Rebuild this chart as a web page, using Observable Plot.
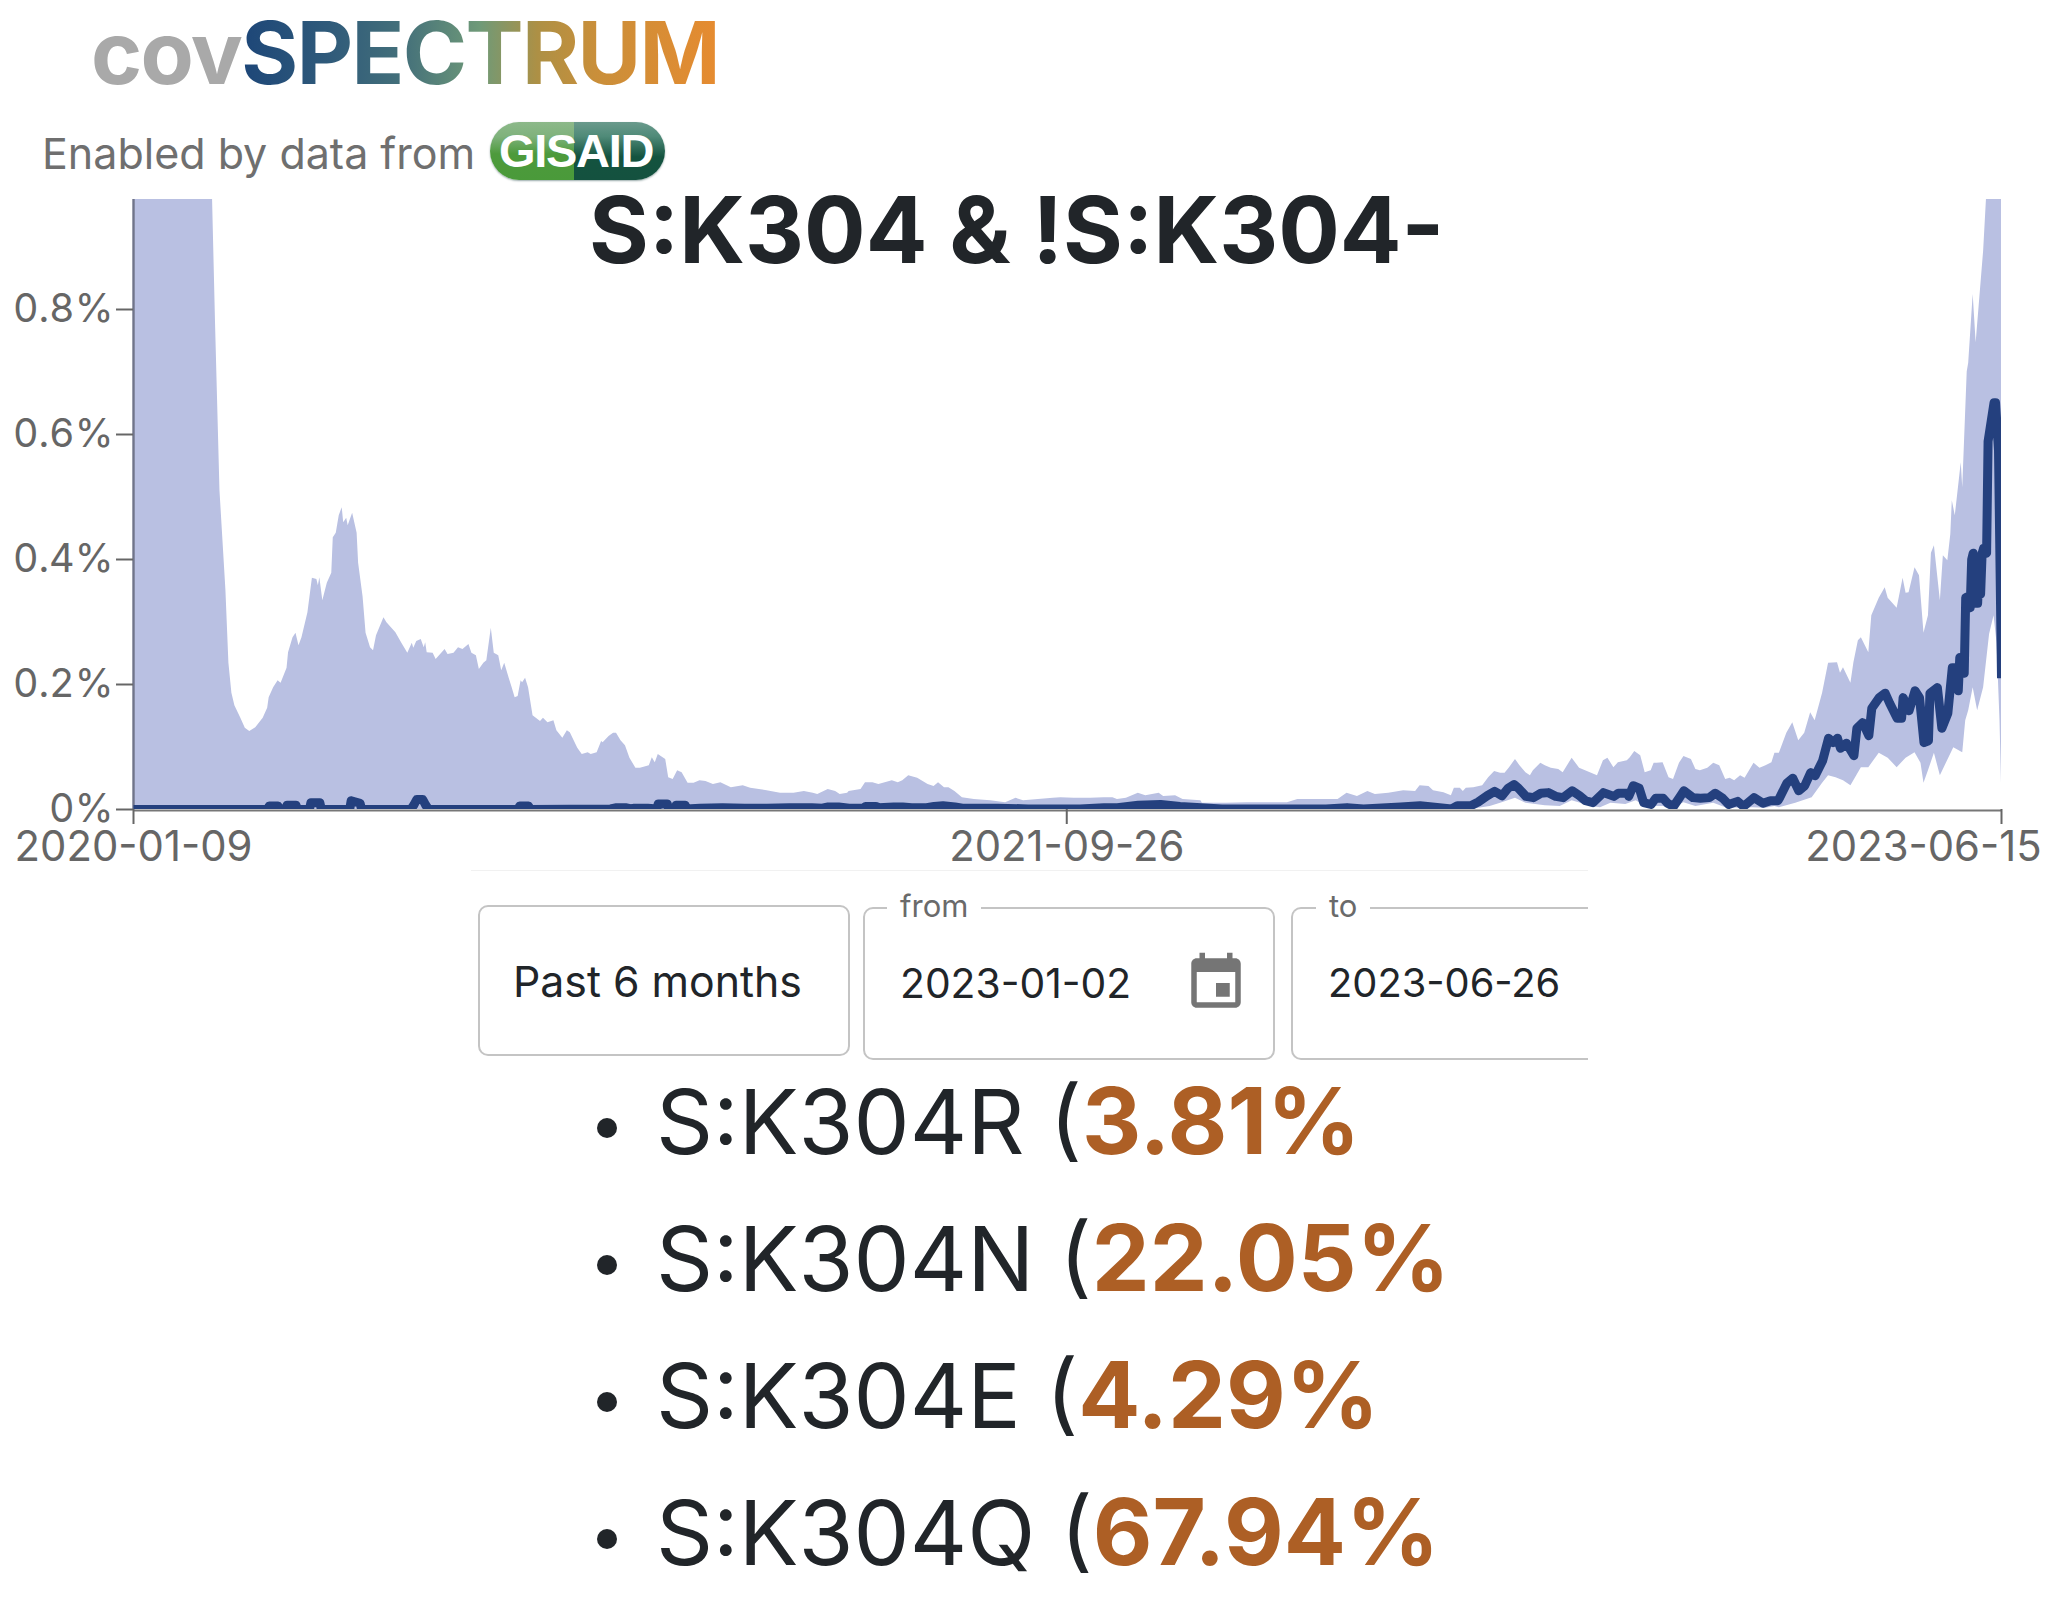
<!DOCTYPE html>
<html><head><meta charset="utf-8">
<script src="https://cdn.jsdelivr.net/npm/d3@7"></script>
<script src="https://cdn.jsdelivr.net/npm/@observablehq/plot@0.6"></script>
<style>
html,body{margin:0;padding:0;background:#fff}
#page{position:relative;width:2048px;height:1622px;overflow:hidden;font-family:Inter,sans-serif;color:#212529}
#page>*{position:absolute}
#logo{left:91px;top:3px;font:700 87px/100px Inter,sans-serif;letter-spacing:-1.6px;white-space:nowrap}
#logo .a{color:#a9a9a9}
#logo .b{background:linear-gradient(90deg,#1d4678 0%,#2f5a7a 18%,#44707a 34%,#6f9a78 50%,#ad9045 62%,#c98f3a 74%,#e68b30 100%);-webkit-background-clip:text;background-clip:text;color:transparent}
#enabled{left:42px;top:129px;font-size:43px;line-height:48px;color:#6f6f6f;white-space:nowrap}
#pill{left:490px;top:122px;width:175px;height:58px;border-radius:29px;overflow:hidden;box-shadow:0 1px 2px #9aa}
#pill .l{position:absolute;left:0;top:0;width:84px;height:58px;background:linear-gradient(180deg,#8db98a 0,#7fb27c 25%,#4d9a3c 55%,#4a9a3a 100%)}
#pill .r{position:absolute;left:84px;top:0;width:91px;height:58px;background:linear-gradient(180deg,#6a9a8c 0,#4f8a78 25%,#14533f 60%,#14513f 100%)}
#pill .t{position:absolute;left:9px;top:3px;font:700 47px/52px "Liberation Sans",sans-serif;letter-spacing:-1.3px;color:#fff;white-space:nowrap}
#title{left:589px;top:175px;font-size:91.4px;font-weight:700;line-height:109px;white-space:nowrap;color:#212529;z-index:3}
#chart{left:0;top:150px}
#sep{left:471px;top:870px;width:1117px;height:1px;background:#f1f1f1}
.box{box-sizing:border-box;border:2.4px solid #c4c4c4;border-radius:10px}
.box.open{border-right:none;border-radius:10px 0 0 10px}
.val{font-size:40.8px;line-height:48px;color:#212529;white-space:nowrap}
.lab{font-size:31px;line-height:36px;color:#6a6a6a;background:#fff;padding:0 13px;white-space:nowrap}
#items{left:0;top:0;margin:0;padding:0;list-style:none}
.item{position:absolute;left:656px;font-size:89px;line-height:110px;white-space:nowrap;color:#212529}
.item b{font-weight:700;color:#ad5f25;font-size:92px}
.item::before{content:"";position:absolute;left:-59px;top:52px;width:20px;height:20px;border-radius:50%;background:#212529}
</style></head>
<body>
<div id="page">
  <div id="logo"><span class="a">cov</span><span class="b">SPECTRUM</span></div>
  <div id="enabled">Enabled by data from</div>
  <div id="pill"><div class="l"></div><div class="r"></div><div class="t">GISAID</div></div>
  <div id="chart"></div>
  <div id="title">S:K304 &amp; !S:K304-</div>
  <div id="sep"></div>
  <div class="box" style="left:478px;top:905px;width:372px;height:151px"></div>
  <div class="val" style="left:513px;top:958px;font-size:42.8px">Past 6 months</div>
  <div class="box" style="left:863px;top:907px;width:412px;height:153px"></div>
  <div class="lab" style="left:887px;top:888px">from</div>
  <div class="val" style="left:900px;top:959px">2023-01-02</div>
  <svg style="left:1183px;top:950px" width="66" height="66" viewBox="0 0 24 24"><path fill="#757575" d="M17 12h-5v5h5v-5zM16 1v2H8V1H6v2H5c-1.11 0-1.99.9-1.99 2L3 19c0 1.1.89 2 2 2h14c1.1 0 2-.9 2-2V5c0-1.1-.9-2-2-2h-1V1h-2zm3 18H5V8h14v11z"/></svg>
  <div class="box open" style="left:1291px;top:907px;width:297px;height:153px"></div>
  <div class="lab" style="left:1316px;top:888px">to</div>
  <div class="val" style="left:1328px;top:959px;font-size:39.8px">2023-06-26</div>
  <ul id="items"></ul>
</div>
<script>
const startDate = "2020-01-09";
const midDate = "2021-09-26";
const endDate = "2023-06-15";
const yTicks = [0, 0.2, 0.4, 0.6, 0.8];
const mutations = ["S:K304R", "S:K304N", "S:K304E", "S:K304Q"];
const shares = ["3.81%", "22.05%", "4.29%", "67.94%"];

// [days since start, percent]
const ciUpper = [[0,3],[48,1.6],[53,.98],[55,.78],[58,.51],[62,.35],[64,.234],[66,.186],[68,.166],[72,.146],[75,.13],[78,.125],[82,.131],[87,.146],[90,.162],[91,.179],[94,.195],[97,.206],[99,.202],[103,.226],[104,.251],[107,.275],[109,.282],[111,.262],[113,.275],[117,.315],[120,.37],[123,.368],[124,.358],[125,.371],[127,.334],[130,.362],[133,.378],[134,.435],[136,.442],[138,.47],[140,.483],[141,.459],[143,.466],[144,.454],[147,.474],[150,.442],[151,.394],[154,.34],[156,.282],[159,.259],[161,.254],[163,.278],[168,.307],[170,.299],[176,.283],[180,.266],[184,.25],[187,.266],[188,.258],[190,.269],[193,.272],[195,.259],[196,.267],[197,.251],[201,.25],[203,.24],[209,.256],[211,.248],[215,.25],[218,.259],[221,.256],[225,.264],[227,.25],[230,.246],[232,.224],[235,.234],[237,.238],[240,.29],[242,.25],[245,.246],[247,.222],[249,.234],[252,.21],[254,.195],[256,.179],[258,.181],[260,.206],[261,.203],[263,.21],[265,.195],[268,.15],[273,.141],[275,.146],[278,.139],[282,.142],[284,.126],[288,.114],[291,.126],[293,.123],[298,.098],[301,.088],[305,.091],[307,.088],[311,.091],[314,.109],[315,.107],[319,.117],[322,.122],[324,.122],[327,.11],[330,.102],[333,.082],[337,.066],[340,.066],[346,.07],[348,.083],[350,.075],[352,.088],[357,.08],[359,.051],[362,.048],[365,.062],[368,.059],[372,.042],[376,.042],[380,.046],[384,.045],[389,.04],[394,.043],[401,.035],[409,.038],[414,.034],[425,.03],[434,.026],[443,.026],[450,.029],[456,.026],[459,.024],[466,.032],[471,.029],[474,.024],[479,.026],[480,.029],[488,.032],[491,.043],[496,.043],[500,.04],[509,.046],[513,.043],[516,.046],[520,.054],[526,.05],[533,.04],[537,.037],[540,.043],[544,.035],[547,.035],[551,.029],[556,.019],[564,.016],[575,.014],[585,.011],[592,.018],[597,.014],[607,.016],[617,.018],[622,.019],[631,.018],[642,.018],[651,.019],[657,.019],[660,.016],[666,.018],[674,.026],[679,.022],[688,.026],[691,.021],[699,.022],[704,.016],[716,.014],[717,.01],[729,.01],[733,.01],[747,.011],[774,.011],[781,.016],[792,.016],[808,.016],[814,.026],[821,.021],[828,.029],[833,.024],[842,.026],[852,.03],[860,.029],[863,.038],[869,.037],[872,.03],[879,.027],[884,.022],[886,.034],[890,.034],[892,.029],[894,.034],[899,.035],[905,.038],[909,.051],[913,.061],[917,.058],[920,.058],[923,.067],[927,.08],[930,.07],[934,.059],[937,.054],[939,.062],[944,.074],[947,.07],[951,.066],[956,.064],[959,.059],[965,.082],[970,.066],[974,.062],[978,.058],[982,.054],[986,.078],[989,.082],[993,.067],[996,.075],[1002,.078],[1004,.083],[1007,.093],[1011,.086],[1014,.059],[1018,.062],[1020,.074],[1022,.074],[1026,.075],[1030,.051],[1033,.048],[1037,.074],[1040,.085],[1045,.08],[1048,.064],[1051,.062],[1056,.066],[1060,.074],[1064,.07],[1068,.048],[1071,.05],[1074,.046],[1078,.054],[1081,.05],[1087,.074],[1091,.066],[1095,.07],[1099,.075],[1101,.09],[1104,.09],[1109,.122],[1113,.139],[1117,.11],[1121,.122],[1125,.155],[1128,.142],[1133,.186],[1137,.234],[1143,.235],[1145,.218],[1147,.227],[1152,.202],[1154,.235],[1157,.27],[1159,.275],[1164,.251],[1166,.31],[1171,.338],[1175,.355],[1177,.338],[1183,.322],[1187,.37],[1189,.346],[1191,.347],[1195,.387],[1198,.374],[1201,.282],[1204,.31],[1206,.41],[1208,.422],[1212,.334],[1214,.406],[1217,.398],[1219,.44],[1220,.494],[1222,.47],[1226,.555],[1227,.515],[1230,.7],[1231,.714],[1234,.824],[1236,.747],[1241,.893],[1243,.98],[1246,1.2],[1253,1.2]];

const ciLower = [[0,0],[897,0],[910,.005],[917,.01],[927,.018],[934,.01],[947,.006],[957,.005],[965,.014],[978,.005],[984,.003],[991,.01],[1001,.008],[1008,.014],[1014,.005],[1026,.005],[1032,.002],[1040,.011],[1048,.005],[1060,.01],[1068,.003],[1078,.002],[1086,.003],[1095,.002],[1101,.005],[1104,.003],[1115,.01],[1126,.019],[1133,.042],[1137,.054],[1142,.051],[1147,.046],[1152,.038],[1159,.067],[1164,.067],[1171,.09],[1177,.082],[1183,.067],[1189,.082],[1195,.091],[1199,.074],[1201,.042],[1204,.062],[1208,.09],[1212,.054],[1216,.074],[1221,.099],[1227,.091],[1229,.142],[1231,.158],[1234,.195],[1237,.158],[1241,.195],[1245,.28],[1248,.31],[1250,.266],[1252,.142],[1253,.042]];

const proportion = [[0,0],[90,0],[91,.0055],[97,.0055],[98,0],[102,0],[103,.007],[109,.007],[110,0],[118,0],[119,.011],[125,.011],[126,0],[145,0],[146,.014],[152,.01],[153,0],[186,0],[188,.007],[190,.016],[194,.016],[196,.007],[198,0],[258,0],[259,.0055],[265,.0055],[266,0],[320,.001],[324,.003],[330,.003],[334,.001],[336,.002],[345,.002],[351,.001],[352,.009],[358,.009],[359,.001],[363,.001],[364,.007],[370,.007],[371,.001],[380,.002],[395,.003],[410,.002],[425,.002],[440,.003],[455,.003],[462,.002],[466,.004],[473,.004],[480,.002],[490,.002],[491,.005],[498,.005],[500,.003],[510,.004],[516,.004],[522,.003],[532,.003],[537,.005],[543,.006],[551,.004],[556,.002],[580,.002],[600,.001],[635,.001],[651,.003],[660,.003],[674,.007],[689,.008],[702,.005],[716,.003],[730,.001],[800,.001],[814,.003],[825,.001],[850,.004],[863,.006],[876,.003],[884,.001],[888,.006],[897,.006],[902,.012],[908,.022],[913,.029],[918,.022],[922,.034],[926,.04],[929,.034],[934,.021],[939,.019],[944,.026],[949,.027],[954,.021],[959,.019],[965,.03],[970,.022],[974,.014],[979,.011],[986,.027],[993,.021],[996,.026],[1002,.026],[1003,.021],[1006,.038],[1010,.034],[1013,.011],[1018,.008],[1021,.018],[1026,.018],[1029,.01],[1033,.005],[1037,.019],[1040,.03],[1046,.019],[1051,.018],[1057,.019],[1061,.026],[1066,.018],[1070,.008],[1076,.013],[1080,.005],[1087,.019],[1093,.01],[1098,.014],[1103,.014],[1104,.018],[1109,.042],[1113,.05],[1117,.03],[1121,.038],[1125,.059],[1128,.054],[1133,.078],[1137,.114],[1140,.107],[1143,.114],[1145,.098],[1149,.106],[1154,.086],[1156,.13],[1160,.139],[1164,.118],[1166,.162],[1171,.179],[1175,.186],[1178,.17],[1183,.146],[1186,.146],[1187,.179],[1191,.158],[1195,.19],[1198,.179],[1201,.107],[1204,.11],[1205,.186],[1210,.195],[1213,.13],[1217,.154],[1220,.227],[1223,.227],[1224,.19],[1225,.243],[1228,.218],[1229,.339],[1230,.34],[1232,.323],[1233,.4],[1234,.41],[1235,.33],[1236,.4],[1237,.33],[1238,.39],[1239,.345],[1240,.41],[1241,.418],[1243,.41],[1244,.589],[1248,.651],[1249,.651],[1251,.574],[1253,.21]];

const d0 = new Date(startDate + "T00:00Z");
const toRows = s => s.map(([d, v]) => ({date: d3.utcDay.offset(d0, d), v}));
const axisDates = [startDate, midDate, endDate].map(s => new Date(s + "T00:00Z"));
const fmt = d3.utcFormat("%Y-%m-%d");
const INK = "#666666", BAND = "#b9c0e2", LINE = "#24407e";
const FONT = "Inter, sans-serif";

const chart = Plot.plot({
  width: 2048, height: 740,
  marginLeft: 133, marginRight: 47, marginTop: 49, marginBottom: 81,
  style: {background: "transparent", fontFamily: FONT, overflow: "visible"},
  x: {type: "utc", domain: [axisDates[0], axisDates[2]]},
  y: {domain: [0, 0.976]},
  marks: [
    Plot.areaY(toRows(ciUpper), {x: "date", y: "v", fill: BAND, curve: "linear", clip: true}),
    Plot.areaY(toRows(ciLower), {x: "date", y: "v", fill: "#ffffff", curve: "linear", clip: true}),
    Plot.ruleY([0], {stroke: "#777777", strokeWidth: 2, dy: 1}),
    Plot.ruleX([axisDates[0]], {stroke: "#70748a", strokeWidth: 2.4}),
    Plot.line(toRows(proportion), {x: "date", y: "v", stroke: LINE, strokeWidth: 9, strokeLinejoin: "round", strokeLinecap: "butt", curve: "linear", clip: true}),
    Plot.axisY({ticks: yTicks, tickSize: 17, tickPadding: 3, tickFormat: d => d + "%", fontSize: 39.5, color: INK, label: null, strokeWidth: 2}),
    Plot.axisX({ticks: axisDates, tickSize: 15, tickFormat: () => "", label: null, color: "#666666", strokeWidth: 2}),
    Plot.text(axisDates.slice(0, 2), {x: d => d, y: 0, text: fmt, dy: 38, fontSize: 41.8, fill: INK, lineAnchor: "middle"}),
    Plot.text(axisDates.slice(2), {x: d => d, y: 0, text: fmt, dy: 38, dx: -78, fontSize: 41.8, fill: INK, lineAnchor: "middle"})
  ]
});
document.getElementById("chart").appendChild(chart);

const items = document.getElementById("items");
const tops = [1066, 1203, 1340, 1477];
mutations.forEach((m, i) => {
  const li = document.createElement("li");
  li.className = "item";
  li.style.top = tops[i] + "px";
  li.append(m + " (");
  const b = document.createElement("b");
  b.textContent = shares[i];
  li.append(b);
  items.append(li);
});
</script>
</body></html>
